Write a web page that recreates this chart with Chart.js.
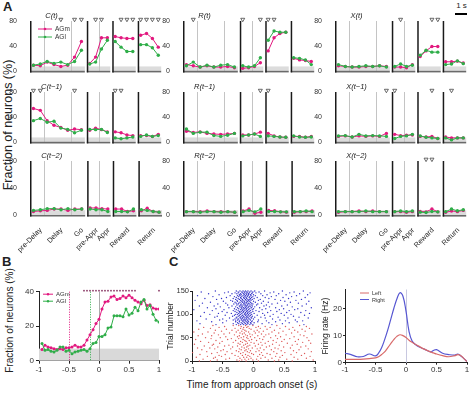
<!DOCTYPE html>
<html><head><meta charset="utf-8">
<script src="https://cdn.jsdelivr.net/npm/chart.js@4"></script>
<style>
html,body{margin:0;padding:0;background:#fff}
body{width:474px;height:393px;position:relative;overflow:hidden;font-family:"Liberation Sans",Arial,sans-serif;color:#222}
canvas{position:absolute}
.txt{position:absolute;white-space:nowrap;color:#222}
</style></head><body>
<div class="txt" style="left:3px;top:-1px;font-weight:bold;font-size:13px">A</div>
<div class="txt" style="left:2px;top:254px;font-weight:bold;font-size:13px">B</div>
<div class="txt" style="left:169px;top:254px;font-weight:bold;font-size:13px">C</div>
<div class="txt" style="left:-72px;top:118px;width:160px;text-align:center;font-size:12.5px;transform:rotate(-90deg)">Fraction of neurons (%)</div>
<div class="txt" style="left:-71px;top:315px;width:160px;text-align:center;font-size:10px;transform:rotate(-90deg)">Fraction of neurons (%)</div>
<div class="txt" style="left:455px;top:1px;width:13px;text-align:center;font-size:8px">1 s</div>
<div style="position:absolute;left:455px;top:13px;width:12px;height:2px;background:#000"></div>
<div class="txt" style="left:172px;top:379px;width:160px;text-align:center;font-size:10px">Time from approach onset (s)</div>
<script>
// ---------------- DATA ----------------
// Panel A: fraction of neurons (%) in 20 bins: 8 (pre-Delay/Delay/Go), 4 (pre-Appr/Appr), 4 (Reward), 4 (Return)
const Ct_AGm  = [9,8,14,10,7,9,22,47, 12,22,53,53, 55,53,52,52, 57,60,52,38];
const Ct_AGl  = [9,11,15,12,14,10,15,33, 11,14,35,49, 47,38,31,31, 42,42,37,25];
const Rt_AGm  = [10,8,6,8,6,6,7,5, 4,5,7,13, 32,53,60,62, 20,17.5,16.5,15];
const Rt_AGl  = [8,14,6,9,6,9,10,6, 8,6,8,21, 49,64,62,62, 21,20,17.5,10];
const Xt_AGm  = [8,7,6,6,7,7,8,7, 6,6,5,10, 23,32,39,39, 14.5,14.5,15.5,12.5];
const Xt_AGl  = [10,7,6,7,8,7,8,6, 7,11,7,9, 25,33,30,30, 10,11,16,11.5];
const Ct1_AGm = [53.5,50.5,34,26.5,23,18.5,20.5,19.5, 18.5,22,19.5,16, 16,14.5,11,10, 10,10,8.5,12];
const Ct1_AGl = [34,37.5,31.5,33,22,20,14.5,18.5, 20,19.5,20,15, 6.3,4.8,6.3,7.7, 8.7,11,8.7,10];
const Rt1_AGm = [17,15,16,13.5,12.5,12,12.5,13.5, 11,11,12.5,15.5, 13.5,9.5,7.7,7.2, 8.7,8.7,7.2,8.7];
const Rt1_AGl = [20.5,13.5,15.5,15.5,10,8.7,10.5,13.5, 9.5,11,12.5,8.7, 9.5,8.7,7.7,7.2, 9.5,7.7,7.2,7.7];
const Xt1_AGm = [8.7,9.5,7.7,9.5,8.7,9.5,8.7,13.5, 12,10,10.5,11, 8.7,7.7,8.7,5.3, 7.7,6.3,6.3,6.3];
const Xt1_AGl = [9.5,10,7.7,12,9.5,10,9.5,8.7, 5.3,8.7,9.5,12, 9.5,7.2,6.3,5.3, 6.3,2.9,6.3,6.3];
const Ct2_AGm = [5.2,6.2,6.8,8.8,8.8,6.8,8.8,8.8, 10.4,10.4,9.4,8.8, 8.8,8.8,5.2,6.2, 6.2,9.9,5.2,4.2];
const Ct2_AGl = [6.8,7.8,9.4,9.4,7.8,9.4,7.8,8.8, 8.8,7.8,7.8,5.2, 5.2,5.2,4.7,8.8, 7.8,6.8,5.2,4.2];
const Rt2_AGm = [5,5,5,6,5,5,5,4, 6,8.8,2.6,4, 6.8,6.2,4.7,4.2, 4,5,5,6];
const Rt2_AGl = [5,5,4,5,5,4,5,4, 5,6.8,4.7,8.8, 5.2,5.2,4.7,4.7, 5,5,6,5];
const Xt2_AGm = [4,5,5,6,5,6,5,5, 5,5,4,5, 5.2,4.7,8.8,4.7, 4,6,5,6.8];
const Xt2_AGl = [5,5,5,5,6,5,5,5, 5,6,5,6, 4.2,3.6,5.2,4.7, 5,8.8,6.2,7.8];
// significant-difference bins (triangles)
const Ct_sig  = [4,6,7,9,10,13,14,15,16,17,18,19];
const Rt_sig  = [1,8,11,12,13];
const Xt_sig  = [9,14,15];
const Ct1_sig = [0,1,6,12,13];
const Rt1_sig = [11,12];
const Xt1_sig = [7,8,14,17];
const Ct2_sig = [];
const Rt2_sig = [];
const Xt2_sig = [13,14];
const panelTitles = ['C(t)','R(t)','X(t)','C(t\u22121)','R(t\u22121)','X(t\u22121)','C(t\u22122)','R(t\u22122)','X(t\u22122)'];
const phaseLabels = ['pre-Delay','Delay','Go','pre-Appr','Appr','Reward','Return'];
const chanceA = 7;

// Panel B: time bins (s) and fraction of neurons (%)
const bTime = [-0.95,-0.9,-0.85,-0.8,-0.75,-0.7,-0.65,-0.6,-0.55,-0.5,-0.45,-0.4,-0.35,-0.3,-0.25,-0.2,-0.15,-0.1,-0.05,0,
               0.05,0.1,0.15,0.2,0.25,0.3,0.35,0.4,0.45,0.5,0.55,0.6,0.65,0.7,0.75,0.8,0.85,0.9,0.95,1.0];
const B_AGm = [6.5,9,8,7.5,7,6.5,7,6.5,7.5,7.5,8,9,8,8,9,12,15,18,21.5,24,
               30,34,34.5,37,37.5,35.5,36,37.5,36.5,38,36.5,35,34,33,35,32,32.5,30.5,30,30];
const B_AGl = [10,6,6.5,5.5,5,6,8,8,5.5,6,4,5,5.5,6,6.5,5.5,7,10,10.5,14,
               14,15,19,19.5,26,26,26,25.5,30,26.5,27.5,31,29,34,35.5,30,32,27,23.5,22.5];
const bSigTimes = [-0.25,-0.2,-0.15,-0.1,-0.05,0,0.05,0.1,0.15,0.2,0.25,0.3,0.35,0.4,0.45,0.5,0.55,0.6,1.0];
const bEventTimes = [-0.5,-0.15,0];
const chanceB = 7;

// Panel C raster: "trial: spike times (1/100 s)"
const rasterRight = [
"150:-62 -28 -22 -17 -13 -9 -4 2 18 47 81","148:-85 -41 -25 -19 -15 -11 -6 -1 9 33 66",
"146:-47 -30 -24 -18 -14 -10 -7 -2 4 27 59 92","144:-73 -35 -27 -21 -16 -12 -8 -3 12 41 75",
"142:-56 -23 -20 -15 -11 -8 -5 0 22 53 88","140:-91 -38 -26 -22 -17 -13 -9 -4 3 15 37 70",
"138:-66 -31 -24 -19 -14 -10 -6 -1 29 62","136:-44 -28 -21 -16 -12 -7 -3 6 19 48 84",
"134:-79 -52 -33 -25 -20 -15 -11 -5 1 25 57","132:-60 -29 -23 -18 -13 -9 -6 -2 11 35 78",
"130:-95 -37 -27 -21 -17 -12 -8 -4 8 44 69","128:-49 -34 -26 -19 -15 -10 -7 0 16 51 90",
"126:-70 -30 -22 -18 -14 -11 -5 3 24 60","124:-83 -45 -28 -24 -16 -12 -8 -3 13 39 73",
"122:-58 -32 -25 -20 -15 -9 -6 -1 7 30 86","120:-42 -27 -21 -17 -13 -10 -4 5 21 55",
"118:-88 -64 -35 -23 -19 -14 -11 -7 -2 17 46 79","116:-54 -29 -22 -18 -12 -8 -5 2 26 63",
"114:-75 -40 -26 -20 -16 -13 -9 -3 10 36 94","112:-61 -31 -24 -19 -15 -11 -6 0 20 49 72",
"110:-97 -48 -28 -21 -17 -12 -8 -2 14 42 67","108:-67 -33 -25 -18 -14 -10 -5 4 28 58 85",
"106:-51 -30 -23 -20 -16 -11 -7 -1 9 38","104:-80 -43 -27 -22 -17 -13 -9 -4 23 54 77",
"102:-57 -36 -24 -19 -14 -10 -6 1 15 45 91","100:-71 -29 -26 -21 -15 -12 -8 -3 32 61",
"98:-46 -31 -23 -18 -13 -9 -5 6 18 50 83","96:-86 -59 -34 -25 -20 -16 -11 -7 -2 27 65",
"94:-63 -28 -22 -17 -14 -10 -4 2 12 40 74","92:-39 -27 -21 -18 -12 -8 -3 19 56 89",
"90:-77 -50 -30 -24 -19 -15 -11 -6 0 31","88:-55 -33 -26 -20 -16 -13 -9 -5 8 43 68",
"86:-92 -44 -29 -23 -18 -14 -10 -2 21 52 80","84:-68 -29 -23 -17 -12 -8 -3 7 36 71",
"82:-50 -26 -20 -15 -10 -5 1 25 58","80:-87 -33 -24 -18 -13 -9 -4 14 47",
"78:-61 -28 -21 -16 -11 -6 -1 30 82"];
const rasterLeft = [
"76:-66 -33 -24 -13 -1 38 75","74:-47 -20 -9 8 19 52 86","72:-81 -56 -16 -11 4 27 64",
"70:-70 -30 -21 -7 11 43 91","68:-89 -44 -17 -4 22 58 79","66:-62 -35 -25 -14 6 34 67",
"64:-52 -19 -12 1 16 48 84","62:-97 -74 -28 -8 9 30 72","60:-64 -39 -22 -15 3 41 62",
"58:-83 -48 -18 -6 13 25 95","56:-57 -31 -13 -2 20 53 76","54:-90 -68 -23 -10 7 36 82",
"52:-45 -26 -16 -5 17 44 66","50:-78 -54 -20 -11 2 28 87","48:-69 -36 -24 -9 10 39 59",
"46:-94 -42 -17 -3 15 50 73","44:-61 -29 -14 -7 5 32 90","42:-86 -51 -21 -12 24 46 68",
"40:-73 -33 -18 -4 12 37 80","38:-55 -25 -10 1 19 55 93","36:-96 -65 -22 -13 8 31 71",
"34:-67 -40 -16 -6 14 42 63","32:-80 -47 -26 -9 3 26 85","30:-58 -34 -19 -11 21 49 77",
"28:-91 -71 -15 -2 11 35 60","26:-63 -37 -23 -8 6 40 89","24:-84 -49 -20 -12 17 29 74",
"22:-53 -28 -14 -5 9 45 65","20:-76 -43 -24 -10 4 33 94","18:-99 -59 -17 -7 13 51 70",
"16:-68 -35 -21 -3 22 38 83","14:-87 -46 -13 0 10 27 61","12:-56 -30 -18 -9 15 47 78",
"10:-75 -52 -25 -6 7 36 92","8:-93 -62 -16 -11 19 43 66","6:-65 -39 -22 -4 12 30 86",
"4:-82 -45 -14 -8 5 54 72","2:-59 -27 -19 -1 24 41 97","0:-88 -70 -23 -12 8 34 63"];

// Panel C firing rate (Hz)
const rateTime  = [-1,-0.9,-0.8,-0.7,-0.6,-0.5,-0.45,-0.4,-0.35,-0.3,-0.25,-0.2,-0.15,-0.1,-0.05,0,0.05,0.1,0.15,0.2,0.3,0.4,0.45,0.5,0.6,0.7,0.8,0.85,0.9,0.95,1.0];
const rateRight = [3.5,3,2.2,2.3,3.2,2.5,3.5,5.5,8.5,12,16,20,23.5,25.8,24.5,19,11.5,8,6.8,6,5,4,4.5,4.8,3.5,3,2.8,3.2,2.5,1.5,0.4];
const rateLeft  = [1.2,1.2,1.2,1.3,1.5,1.8,2.2,3,4,5.5,7,8.5,9.7,10.3,10,9.3,8.3,7.5,6.8,6.2,5,4,3.6,3.2,2.6,2.2,2.6,3,2.6,1.5,0.4];

// ---------------- STYLE / LAYOUT ----------------
const MAG = '#e2197f', GRN = '#2fae49';
const FONT = '"Liberation Sans", Arial, sans-serif';
Chart.defaults.font.family = FONT;
Chart.defaults.color = '#222';
Chart.defaults.animation = false;
Chart.defaults.events = [];
Chart.defaults.plugins.legend.display = false;
Chart.defaults.plugins.tooltip.enabled = false;

const SEG_BINS = [8,4,4,4], SEG_START = [0,58,84,110], SEG_W = [56,24,24,24];
const EVENT_BINS = [[2,6],[2],[],[]];
const PHASE_RANGES = [[0,0,2],[0,2,6],[0,6,8],[1,0,2],[1,2,4],[2,0,4],[3,0,4]];
const COL_X = [30,183,335], ROW_Y = [21,92,161];
const binX = (s,j) => SEG_START[s] + (j+0.5)*SEG_W[s]/SEG_BINS[s];
const binIndexX = k => { let s=0; while(k>=SEG_BINS[s]){k-=SEG_BINS[s]; s++;} return binX(s,k); };
const fmtNum = v => String(Math.round(v*100)/100);

function line(ctx,x1,y1,x2,y2){ctx.beginPath();ctx.moveTo(x1,y1);ctx.lineTo(x2,y2);ctx.stroke();}

const miniLegend = {
  id:'miniLegend',
  afterDatasetsDraw(chart, args, o){
    if(!o || !o.show) return;
    const {ctx, chartArea:a} = chart;
    ctx.save();
    let yy = a.top + o.y;
    chart.data.datasets.forEach(ds=>{
      if(!ds.inLegend) return;
      const x0 = a.left + o.x;
      ctx.strokeStyle = ds.borderColor; ctx.lineWidth = 1;
      line(ctx,x0,yy,x0+o.len,yy);
      if(o.marker){ctx.fillStyle=ds.borderColor;ctx.beginPath();ctx.arc(x0+o.len/2,yy,o.marker,0,Math.PI*2);ctx.fill();}
      ctx.fillStyle='#333'; ctx.font=o.size+'px '+FONT; ctx.textBaseline='middle'; ctx.textAlign='left';
      ctx.fillText(ds.label, x0+o.len+3, yy+0.5);
      yy += o.dy;
    });
    ctx.restore();
  }
};

const segDecor = {
  id:'segDecor',
  beforeDatasetsDraw(chart, args, o){
    const {ctx, scales:{x,y}} = chart;
    const y0=y.getPixelForValue(0), yT=y.getPixelForValue(80), yC=y.getPixelForValue(chanceA);
    ctx.save();
    for(let s=0;s<4;s++){
      const xa=x.getPixelForValue(SEG_START[s]), xb=x.getPixelForValue(SEG_START[s]+SEG_W[s]);
      ctx.fillStyle='#dcdcdc'; ctx.fillRect(xa,yC,xb-xa,y0-yC);
      ctx.strokeStyle='#c4c4c4'; ctx.lineWidth=1;
      EVENT_BINS[s].forEach(b=>{const xe=Math.round(x.getPixelForValue(SEG_START[s]+b*SEG_W[s]/SEG_BINS[s]))+0.5; line(ctx,xe,yT,xe,y0);});
      ctx.strokeStyle='#6a6a6a'; ctx.lineWidth=1.6; line(ctx,xa,y0+0.8,xb,y0+0.8);
      ctx.strokeStyle='#1a1a1a'; ctx.lineWidth=1.5; line(ctx,xa+0.75,yT,xa+0.75,y0+1.6);
    }
    ctx.fillStyle='#222'; ctx.font='italic 7.5px '+FONT; ctx.textAlign='center'; ctx.textBaseline='alphabetic';
    ctx.fillText(o.title, x.getPixelForValue(22), yT-3);
    ctx.restore();
  }
};

const panelData = [
  [Ct_AGm,Ct_AGl,Ct_sig],[Rt_AGm,Rt_AGl,Rt_sig],[Xt_AGm,Xt_AGl,Xt_sig],
  [Ct1_AGm,Ct1_AGl,Ct1_sig],[Rt1_AGm,Rt1_AGl,Rt1_sig],[Xt1_AGm,Xt1_AGl,Xt1_sig],
  [Ct2_AGm,Ct2_AGl,Ct2_sig],[Rt2_AGm,Rt2_AGl,Rt2_sig],[Xt2_AGm,Xt2_AGl,Xt2_sig]];

function addCanvas(l,t,w,h){const c=document.createElement('canvas');c.width=w;c.height=h;c.style.left=l+'px';c.style.top=t+'px';c.style.width=w+'px';c.style.height=h+'px';document.body.appendChild(c);return c;}

function toPts(arr){
  const out=[]; let k=0;
  for(let s=0;s<4;s++){
    for(let j=0;j<SEG_BINS[s];j++) out.push({x:binX(s,j), y:arr[k++]});
    out.push({x:SEG_START[s]+SEG_W[s]+1, y:null});
  }
  return out;
}

panelData.forEach((pd,idx)=>{
  const row=Math.floor(idx/3), col=idx%3, bottom=row===2;
  const YW = col===0 ? 30 : 24;
  const H = bottom ? 108 : 73;
  const cv = addCanvas(COL_X[col]-YW, ROW_Y[row]-14, YW+136, H);
  const lineDs = (label,arr,color,order)=>({label, data:toPts(arr), borderColor:color, backgroundColor:color,
      borderWidth:1, pointRadius:1.7, pointBorderWidth:0, spanGaps:false, order, inLegend:true});
  new Chart(cv,{
    type:'line',
    data:{datasets:[
      lineDs('AGm',pd[0],MAG,2),
      lineDs('AGl',pd[1],GRN,1),
      {label:'sig', data:pd[2].map(k=>({x:binIndexX(k), y:82.5})), showLine:false, pointStyle:'triangle', pointRotation:180,
       pointRadius:2.3, pointBorderWidth:0.8, borderColor:'#444', backgroundColor:'#fff', clip:false, order:0}
    ]},
    options:{
      responsive:false, maintainAspectRatio:false,
      layout:{padding:{top:14,right:2,bottom:bottom?0:5,left:0}},
      scales:{
        x:{type:'linear', min:0, max:134, display:bottom,
           afterBuildTicks:s=>{s.ticks=PHASE_RANGES.map(r=>({value:SEG_START[r[0]]+((r[1]+r[2])/2)*SEG_W[r[0]]/SEG_BINS[r[0]]+4}));},
           afterFit:s=>{ if(bottom) s.height=40; },
           ticks:{autoSkip:false, minRotation:45, maxRotation:45, padding:3, font:{size:7.2}, color:'#222',
                  callback:(v,i)=>phaseLabels[i]},
           grid:{display:false}, border:{display:false}},
        y:{min:0, max:80, afterFit:s=>{s.width=YW;},
           ticks:{stepSize:40, font:{size:7}, color:'#333', padding:5},
           grid:{display:false}, border:{display:false}}
      },
      plugins:{segDecor:{title:panelTitles[idx]},
               miniLegend:{show:idx===0, x:8, y:8, dy:8, len:14, marker:1.3, size:6.5}}
    },
    plugins:[segDecor, miniLegend]
  });
});

// ---------- Panel B ----------
const bDecor = {
  id:'bDecor',
  beforeDatasetsDraw(chart){
    const {ctx, scales:{x,y}} = chart;
    const y0=y.getPixelForValue(0), yT=y.getPixelForValue(40), yC=y.getPixelForValue(chanceB);
    ctx.save();
    ctx.fillStyle='#d9d9d9'; ctx.fillRect(x.getPixelForValue(-1),yC,x.getPixelForValue(1)-x.getPixelForValue(-1),y0-yC);
    const styles=[[MAG,[1,1.5]],[GRN,[1,1.5]],['#aaa',[]]];
    bEventTimes.forEach((t,i)=>{const xe=Math.round(x.getPixelForValue(t))+0.5; ctx.strokeStyle=styles[i][0]; ctx.setLineDash(styles[i][1]); ctx.lineWidth=1; line(ctx,xe,yT,xe,y0);});
    ctx.restore();
  }
};
const cvB = addCanvas(16,281,150,95);
new Chart(cvB,{
  type:'line',
  data:{datasets:[
    {label:'AGm', data:bTime.map((t,i)=>({x:t,y:B_AGm[i]})), borderColor:MAG, backgroundColor:MAG, borderWidth:1, pointRadius:1.5, pointBorderWidth:0, order:2, inLegend:true},
    {label:'AGl', data:bTime.map((t,i)=>({x:t,y:B_AGl[i]})), borderColor:GRN, backgroundColor:GRN, borderWidth:1, pointRadius:1.5, pointBorderWidth:0, order:1, inLegend:true},
    {label:'sig', data:bSigTimes.map(t=>({x:t,y:40.6})), showLine:false, pointRadius:0.9, pointBorderWidth:0, backgroundColor:'#8a3a66', borderColor:'#8a3a66', clip:false, order:0}
  ]},
  options:{
    responsive:false, maintainAspectRatio:false,
    layout:{padding:{top:10.7,right:7,bottom:0,left:0}},
    scales:{
      x:{type:'linear', min:-1, max:1, afterFit:s=>{s.height=15.3;},
         ticks:{stepSize:0.5, font:{size:8}, color:'#333', padding:1, callback:fmtNum},
         grid:{display:true, drawOnChartArea:false, drawTicks:true, tickLength:3, color:'#222'},
         border:{display:true, color:'#222', width:1}},
      y:{min:0, max:40, afterFit:s=>{s.width=23;},
         ticks:{stepSize:20, font:{size:8}, color:'#333', padding:2, includeBounds:false},
         grid:{display:true, drawOnChartArea:false, drawTicks:true, tickLength:3, color:'#222'},
         border:{display:true, color:'#222', width:1}}
    },
    plugins:{miniLegend:{show:true, x:4, y:2.5, dy:7, len:10, marker:1.2, size:6}}
  },
  plugins:[bDecor, miniLegend]
});

// ---------- Panel C raster ----------
const parseRaster = rows => rows.flatMap(r=>{const [tr,ts]=r.split(':'); return ts.trim().split(/\s+/).map(v=>({x:Number(v)/100, y:Number(tr)}));});
const cvR = addCanvas(166,281,156,95);
new Chart(cvR,{
  type:'scatter',
  data:{datasets:[
    {label:'Right', data:parseRaster(rasterRight), pointRadius:0.7, pointBorderWidth:0, backgroundColor:'#3434c8', clip:false},
    {label:'Left', data:parseRaster(rasterLeft), pointRadius:0.7, pointBorderWidth:0, backgroundColor:'#dd5a5a', clip:false}
  ]},
  options:{
    responsive:false, maintainAspectRatio:false,
    layout:{padding:{top:10,right:7,bottom:0,left:0}},
    scales:{
      x:{type:'linear', min:-1, max:1, afterFit:s=>{s.height=15;},
         ticks:{stepSize:0.5, font:{size:8}, color:'#333', padding:1, callback:fmtNum},
         grid:{display:true, drawOnChartArea:false, drawTicks:true, tickLength:3, color:'#222'},
         border:{display:true, color:'#222', width:1}},
      y:{min:0, max:150, afterFit:s=>{s.width=26;},
         title:{display:true, text:'Trial number', font:{size:8.5}, color:'#222', padding:{top:0,bottom:0}},
         ticks:{stepSize:50, font:{size:7.5}, color:'#333', padding:1, includeBounds:false},
         grid:{display:true, drawOnChartArea:false, drawTicks:true, tickLength:2, color:'#222'},
         border:{display:true, color:'#222', width:1}}
    }
  }
});

// ---------- Panel C firing rate ----------
const rDecor = {
  id:'rDecor',
  beforeDatasetsDraw(chart){
    const {ctx, scales:{x,y}} = chart;
    ctx.save(); ctx.strokeStyle='#c8c8e0'; ctx.lineWidth=1;
    const xe=Math.round(x.getPixelForValue(0))+0.5; line(ctx,xe,y.getPixelForValue(27),xe,y.getPixelForValue(0));
    ctx.restore();
  }
};
const cvF = addCanvas(321,281,153,95);
new Chart(cvF,{
  type:'line',
  data:{datasets:[
    {label:'Left', data:rateTime.map((t,i)=>({x:t,y:rateLeft[i]})), borderColor:'#d86a6a', borderWidth:1.2, pointRadius:0, tension:0.4, inLegend:true},
    {label:'Right', data:rateTime.map((t,i)=>({x:t,y:rateRight[i]})), borderColor:'#5757d2', borderWidth:1.2, pointRadius:0, tension:0.4, inLegend:true}
  ]},
  options:{
    responsive:false, maintainAspectRatio:false,
    layout:{padding:{top:8.5,right:7,bottom:0,left:0}},
    scales:{
      x:{type:'linear', min:-1, max:1, afterFit:s=>{s.height=13.3;},
         ticks:{stepSize:0.5, font:{size:8}, color:'#333', padding:0, callback:fmtNum},
         grid:{display:true, drawOnChartArea:false, drawTicks:true, tickLength:2, color:'#222'},
         border:{display:true, color:'#222', width:1}},
      y:{min:0, max:27, afterFit:s=>{s.width=24;},
         title:{display:true, text:'Firing rate (Hz)', font:{size:8.5}, color:'#222', padding:{top:0,bottom:1}},
         ticks:{stepSize:10, font:{size:8}, color:'#333', padding:1, includeBounds:false},
         grid:{display:true, drawOnChartArea:false, drawTicks:true, tickLength:2, color:'#222'},
         border:{display:true, color:'#222', width:1}}
    },
    plugins:{miniLegend:{show:true, x:15, y:3.5, dy:6.5, len:9, marker:0, size:5.5}}
  },
  plugins:[rDecor, miniLegend]
});
</script>
</body></html>
